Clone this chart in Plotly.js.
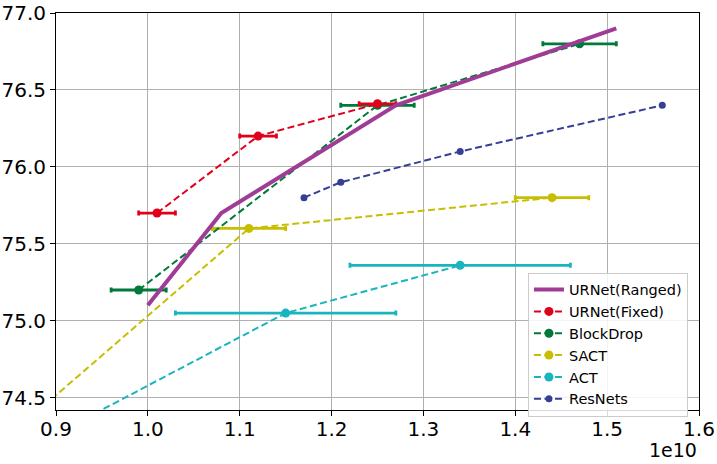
<!DOCTYPE html>
<html>
<head>
<meta charset="utf-8">
<script src="https://cdn.plot.ly/plotly-3.0.1.min.js"></script>
<style>html,body{margin:0;padding:0;background:#fff;}</style>
</head>
<body>
<div id="chart" style="width:717px;height:464px;"></div>
<script>
// FLOPs in units of 1e10, accuracy in %
const rangedX = [1.00, 1.08, 1.27, 1.51];
const rangedY = [75.1, 75.7, 76.4, 76.9];

const fixedX = [1.01, 1.12, 1.25];
const fixedY = [75.7, 76.2, 76.41];
const fixedErr = [0.02, 0.02, 0.02];

const blockX = [0.99, 1.25, 1.47];
const blockY = [75.2, 76.4, 76.8];
const blockErr = [0.03, 0.04, 0.04];

const sactX = [0.80, 1.11, 1.44];
const sactY = [74.0, 75.6, 75.8];
const sactErr = [0.0, 0.04, 0.04];

const actX = [0.80, 1.15, 1.34];
const actY = [73.95, 75.05, 75.36];
const actErr = [0.0, 0.12, 0.12];

const resX = [1.17, 1.21, 1.34, 1.56];
const resY = [75.8, 75.9, 76.1, 76.4];

const xTicks = [0.9, 1.0, 1.1, 1.2, 1.3, 1.4, 1.5, 1.6];
const yTicks = [74.5, 75.0, 75.5, 76.0, 76.5, 77.0];

const C = {
  ranged: '#a03c96', fixed: '#e0001a', block: '#00793a',
  sact: '#c8be00', act: '#19b5bd', res: '#343f95'
};
const dash = '7px,3.5px';

function errTrace(name, x, y, e, color) {
  return {
    name: name, x: x, y: y, type: 'scatter', mode: 'lines+markers',
    line: {color: color, width: 2, dash: dash},
    marker: {color: color, size: 9},
    error_x: {type: 'data', array: e, visible: true, color: color, thickness: 2.8, width: 2.5}
  };
}

const traces = [
  {name: 'ResNets', x: resX, y: resY, type: 'scatter', mode: 'lines+markers',
   line: {color: C.res, width: 2, dash: dash}, marker: {color: C.res, size: 7}},
  errTrace('ACT', actX, actY, actErr, C.act),
  errTrace('SACT', sactX, sactY, sactErr, C.sact),
  errTrace('BlockDrop', blockX, blockY, blockErr, C.block),
  errTrace('URNet(Fixed)', fixedX, fixedY, fixedErr, C.fixed),
  {name: 'URNet(Ranged)', x: rangedX, y: rangedY, type: 'scatter', mode: 'lines',
   line: {color: C.ranged, width: 4}}
];

const axisCommon = {
  showline: true, linecolor: '#000', linewidth: 1, mirror: true,
  ticks: 'outside', ticklen: 5, tickcolor: '#000', tickwidth: 1,
  showgrid: true, gridcolor: '#b0b0b0', gridwidth: 1, zeroline: false,
  tickfont: {family: 'DejaVu Sans', size: 20, color: '#000'}
};

const layout = {
  width: 717, height: 464,
  margin: {l: 56, r: 18, t: 13, b: 54},
  paper_bgcolor: '#fff', plot_bgcolor: '#fff',
  font: {family: 'DejaVu Sans', color: '#000'},
  xaxis: Object.assign({}, axisCommon, {
    range: [0.9, 1.6], tickmode: 'array', tickvals: xTicks,
    ticktext: xTicks.map(v => v.toFixed(1)), ticklabelstandoff: -4
  }),
  yaxis: Object.assign({}, axisCommon, {
    range: [74.42, 77.0], tickmode: 'array', tickvals: yTicks,
    ticktext: yTicks.map(v => v.toFixed(1))
  }),
  showlegend: true,
  legend: {
    x: 0.734, y: 0.346, xanchor: 'left', yanchor: 'top',
    traceorder: 'reversed',
    bgcolor: 'rgba(255,255,255,0.85)', bordercolor: '#cccccc', borderwidth: 1,
    font: {family: 'DejaVu Sans', size: 14.5, color: '#000'}
  },
  annotations: [{
    text: '1e10', xref: 'paper', yref: 'paper', x: 1.0, y: -0.133,
    xanchor: 'right', yanchor: 'bottom', showarrow: false,
    font: {family: 'DejaVu Sans', size: 19, color: '#000'}
  }]
};

Plotly.newPlot('chart', traces, layout, {displayModeBar: false, staticPlot: true});
</script>
</body>
</html>
